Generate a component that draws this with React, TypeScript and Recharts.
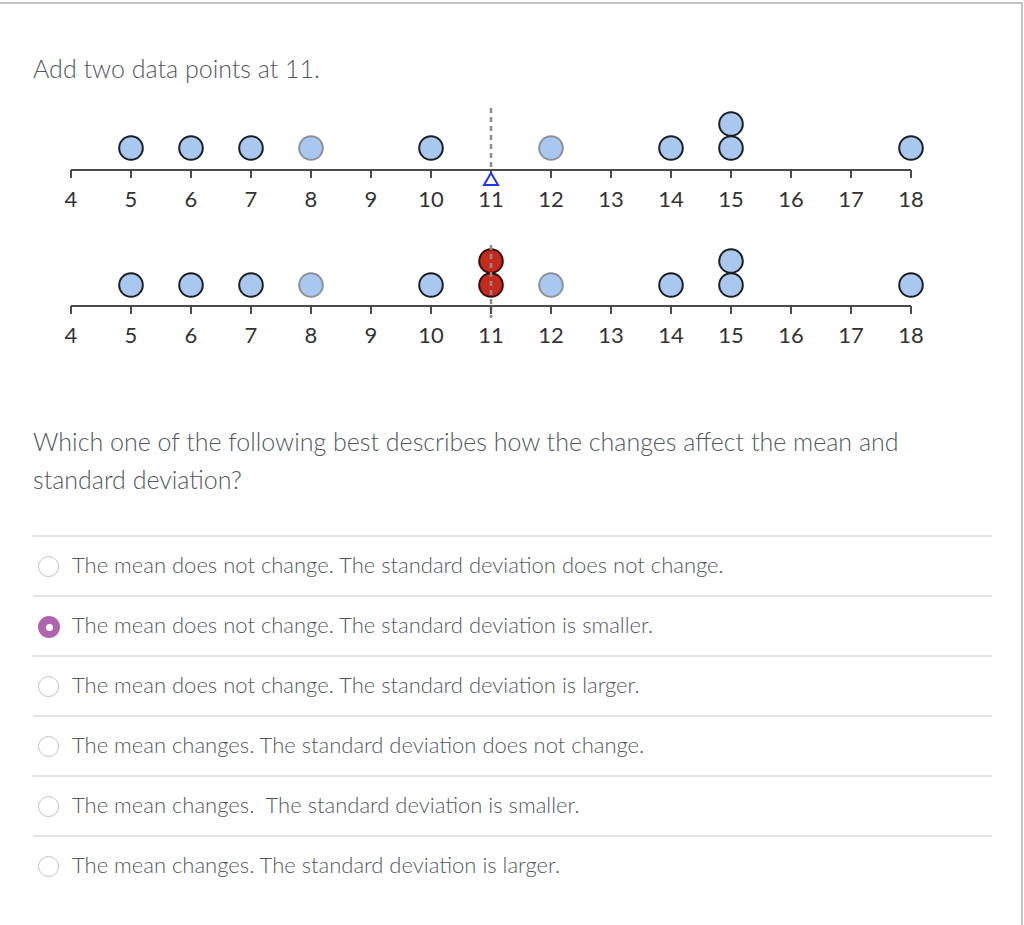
import React from "react";
import { ScatterChart, Scatter, XAxis, YAxis, ReferenceLine, ReferenceDot } from "recharts";

const original = [5, 6, 7, 8, 10, 12, 14, 15, 15, 18];
const added = [11, 11];
const ticks = [4, 5, 6, 7, 8, 9, 10, 11, 12, 13, 14, 15, 16, 17, 18];
const MEAN = 11;

const question = "Add two data points at 11.";
const prompt = "Which one of the following best describes how the changes affect the mean and standard deviation?";
const options = [
  "The mean does not change. The standard deviation does not change.",
  "The mean does not change. The standard deviation is smaller.",
  "The mean does not change. The standard deviation is larger.",
  "The mean changes. The standard deviation does not change.",
  "The mean changes.  The standard deviation is smaller.",
  "The mean changes. The standard deviation is larger.",
];
const selected = 1;

// dots drawn with the pale outline in the source
const FADED = new Set([8, 12]);

type Pt = { x: number; level: number; added: boolean };

function stack(vals: number[], extra: number[]): Pt[] {
  const count: Record<number, number> = {};
  const out: Pt[] = [];
  vals.forEach((v) => { count[v] = (count[v] || 0) + 1; out.push({ x: v, level: count[v], added: false }); });
  extra.forEach((v) => { count[v] = (count[v] || 0) + 1; out.push({ x: v, level: count[v], added: true }); });
  return out;
}

/* eslint-disable @typescript-eslint/no-explicit-any */
function Dot(props: any) {
  const { cx, cy, payload } = props;
  if (cx == null || cy == null) return null;
  const red = payload.added;
  const stroke = red ? "#3a0b08" : FADED.has(payload.x) ? "#8d9199" : "#1c1f24";
  return <circle cx={cx} cy={cy} r={11.8} fill={red ? "#c52a1f" : "#a8c8ef"} stroke={stroke} strokeWidth={2} />;
}

function Tri(props: any) {
  const { cx, cy } = props;
  if (cx == null || cy == null) return null;
  return <polygon points={`${cx},${cy + 3} ${cx - 7},${cy + 15} ${cx + 7},${cy + 15}`} fill="#fff" stroke="#2136e0" strokeWidth={2} />;
}
/* eslint-enable @typescript-eslint/no-explicit-any */

const font = "Lato, 'Open Sans', sans-serif";
const tickStyle = { fill: "#333", fontSize: 22, fontFamily: font, fontWeight: 400 };
const dash = { stroke: "#8c8c8c", strokeWidth: 2.5, strokeDasharray: "5 4" };

function DotPlot({ data, top, lo, hi, plotH, below }: { data: Pt[]; top: number; lo: number; hi: number; plotH: number; below: boolean }) {
  const h = 10 + plotH + 50;
  const meanPts = [{ x: MEAN, level: hi }, { x: MEAN, level: lo }];
  return (
    <div style={{ position: "absolute", left: 51, top }}>
      <ScatterChart width={880} height={h} margin={{ top: 10, right: 20, bottom: 0, left: 20 }}>
        <XAxis type="number" dataKey="x" domain={[4, 18]} ticks={ticks} interval={0} height={50}
          axisLine={{ stroke: "#4a4a4a", strokeWidth: 2 }} tickLine={{ stroke: "#4a4a4a", strokeWidth: 2 }}
          tickSize={8} tickMargin={13} tick={tickStyle} />
        <YAxis type="number" dataKey="level" domain={[lo, hi]} hide />
        {below && <ReferenceLine segment={[{ x: MEAN, y: lo }, { x: MEAN, y: lo - 0.5 }]} ifOverflow="visible" {...dash} />}
        <Scatter data={data} shape={<Dot />} isAnimationActive={false} />
        <Scatter data={meanPts} line={dash} shape={() => <g />} isAnimationActive={false} />
        {!below && <ReferenceDot x={MEAN} y={lo} r={0} ifOverflow="visible" shape={<Tri />} />}
      </ScatterChart>
    </div>
  );
}

export default function App() {
  const before = stack(original, []);
  const after = stack(original, added);
  return (
    <div style={{ position: "absolute", left: 0, top: 0, width: 1024, height: 925, background: "#fff", overflow: "hidden", fontFamily: font, fontWeight: 300, color: "#52585e" }}>
      <div style={{ position: "absolute", left: -10, top: 2, width: 1031, height: 940, borderTop: "2px solid #c3c3c3", borderRight: "2px solid #c3c3c3" }} />
      <div style={{ position: "absolute", left: 33, top: 53, fontSize: 25, lineHeight: "30px" }}>{question}</div>

      <DotPlot data={before} top={98} lo={1 / 12} hi={2.667} plotH={62} below={false} />
      <DotPlot data={after} top={235} lo={0.125} hi={2.667} plotH={61} below={true} />

      <div style={{ position: "absolute", left: 33, top: 422, width: 900, fontSize: 25, lineHeight: "38px" }}>{prompt}</div>

      {options.map((o, i) => (
        <div key={i} style={{ position: "absolute", left: 33, top: 535, width: 959, height: 60, borderTop: "2px solid #e4e4e4", transform: `translateY(${i * 60}px)` }}>
          {i === selected ? (
            <div style={{ position: "absolute", left: 5, top: 19, width: 22, height: 22, borderRadius: 11, background: "#b064ae", display: "flex", alignItems: "center", justifyContent: "center" }}>
              <div style={{ width: 7, height: 7, borderRadius: 4, background: "#fff" }} />
            </div>
          ) : (
            <div style={{ position: "absolute", left: 5, top: 19, width: 19, height: 19, borderRadius: 11, border: "1.5px solid #c2c2c2", background: "#fff" }} />
          )}
          <div style={{ position: "absolute", left: 39, top: 15, fontSize: 22, lineHeight: "26px", whiteSpace: "pre" }}>{o}</div>
        </div>
      ))}
    </div>
  );
}
